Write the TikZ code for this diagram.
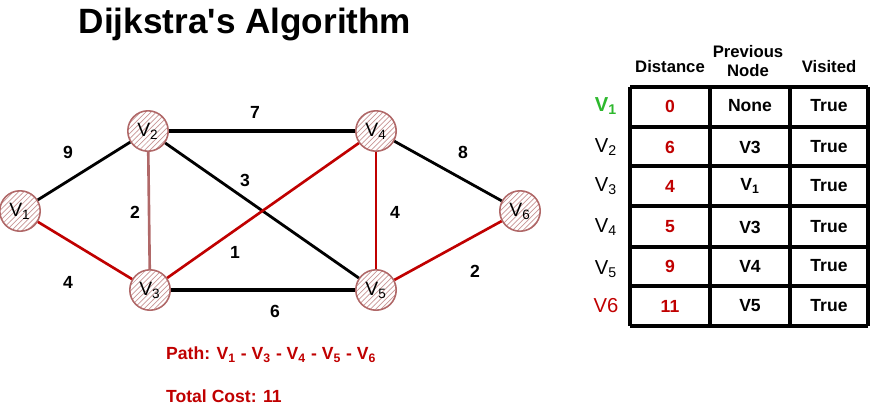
\documentclass[tikz,border=0pt]{standalone}
\usepackage{fontspec}
\setmainfont{Liberation Sans}
\usetikzlibrary{patterns}
\definecolor{dred}{HTML}{C00000}
\definecolor{vgreen}{HTML}{2DB82D}
\definecolor{ncol}{HTML}{B06868}
\tikzset{
  vert/.style={circle,draw=ncol,line width=0.9pt,minimum size=23pt,inner sep=0pt,
    pattern={north east lines},pattern color=ncol!70,font=\fontsize{11}{12}\selectfont},
  blk/.style={draw=black,line width=2.2pt},
  redl/.style={draw=dred,line width=1.5pt},
  lbl/.style={font=\bfseries\fontsize{10}{12}\selectfont},
  cell/.style={font=\bfseries\fontsize{10}{12}\selectfont},
  rowl/.style={font=\fontsize{11.5}{13}\selectfont},
  hdr/.style={font=\bfseries\fontsize{9.5}{11}\selectfont,align=center},
}
\begin{document}
\begin{tikzpicture}[x=0.02cm,y=-0.02cm]
\useasboundingbox (0,0) rectangle (875,416);
\node[font=\bfseries\fontsize{20}{24}\selectfont] (title) at (245,24) {Dijkstra\textquotesingle s Algorithm};
\node[vert] (v1) at (20,211) {V\textsubscript{1}};
\node[vert] (v2) at (148,131) {V\textsubscript{2}};
\node[vert] (v3) at (150,290) {V\textsubscript{3}};
\node[vert] (v4) at (376,131) {V\textsubscript{4}};
\node[vert] (v5) at (376,290) {V\textsubscript{5}};
\node[vert] (v6) at (520,211) {V\textsubscript{6}};
\draw[blk,line width=1.6pt] (v1) -- (v2);
\draw[blk] (v2) -- (v4);
\draw[draw=ncol,line width=1.5pt] (v2) -- (v3);
\draw[blk,line width=1.6pt] (v2) -- (v5);
\draw[redl] (v3) -- (v4);
\draw[redl] (v1) -- (v3);
\draw[blk] (v3) -- (v5);
\draw[redl] (v4) -- (v5);
\draw[blk,line width=1.6pt] (v4) -- (v6);
\draw[redl] (v5) -- (v6);
\node[lbl] (l9) at (68,152) {9};
\node[lbl] (l7) at (255,112) {7};
\node[lbl] (l2a) at (135,212) {2};
\node[lbl] (l3) at (245,180) {3};
\node[lbl] (l1) at (235,252) {1};
\node[lbl] (l4a) at (68,282) {4};
\node[lbl] (l6) at (275,311) {6};
\node[lbl] (l4b) at (395,212) {4};
\node[lbl] (l8) at (463,152) {8};
\node[lbl] (l2b) at (475,271) {2};
\node[lbl,text=dred,anchor=west] (path) at (160,355) {Path: V\textsubscript{1} - V\textsubscript{3} - V\textsubscript{4} - V\textsubscript{5} - V\textsubscript{6}};
\node[lbl,text=dred,anchor=west] (cost) at (160,396) {Total Cost: 11};
% table
\foreach \y in {87,127,166,206,247,286,326} \draw[line width=1.8pt] (630,\y) -- (868,\y);
\foreach \x in {630,710,790,868} \draw[line width=1.8pt] (\x,87) -- (\x,326);
\node[hdr] (h1) at (670,67) {Distance};
\node[hdr] (h2) at (748,61) {Previous\\Node};
\node[hdr] (h3) at (829,67) {Visited};
\node[rowl,text=vgreen,font=\bfseries\fontsize{11.5}{13}\selectfont] (r1) at (606,106) {V\textsubscript{1}};
\node[rowl] (r2) at (606,147) {V\textsubscript{2}};
\node[rowl] (r3) at (606,186) {V\textsubscript{3}};
\node[rowl] (r4) at (606,227) {V\textsubscript{4}};
\node[rowl] (r5) at (606,269) {V\textsubscript{5}};
\node[rowl,text=dred] (r6) at (606,306) {V6};
\foreach \y/\d/\p in {106/0/None,147/6/V3,186/4/V\textsubscript{1},227/5/V3,266/9/V4,306/11/V5}{
  \node[cell,text=dred] at (670,\y) {\d};
  \node[cell] at (750,\y) {\p};
  \node[cell] at (829,\y) {True};
}
\end{tikzpicture}
\end{document}
